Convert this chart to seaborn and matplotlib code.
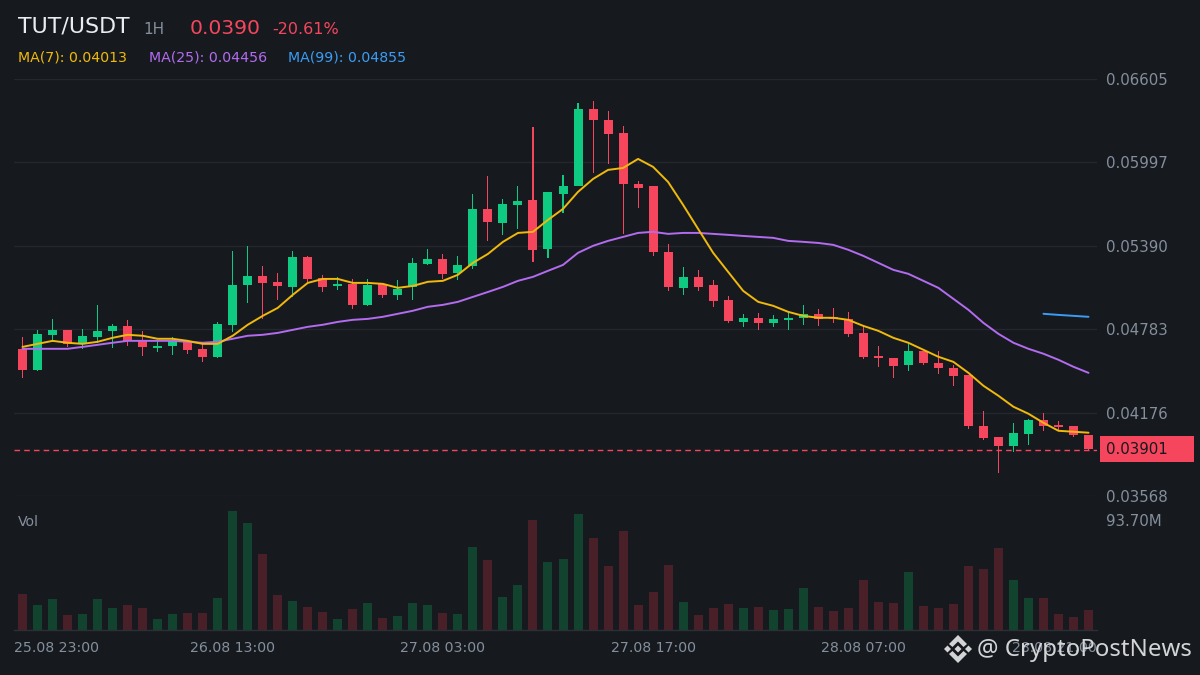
import numpy as np
import pandas as pd
import matplotlib
matplotlib.use("Agg")
import matplotlib.pyplot as plt
import seaborn as sns
from matplotlib.patches import Polygon, Rectangle
from matplotlib.transforms import ScaledTranslation

# candles, one per hour
opens = [0.04640, 0.04487, 0.04742, 0.04778, 0.04676, 0.04727, 0.04771, 0.04807, 0.04698, 0.04647, 0.04662, 0.04691,
         0.04640, 0.04582, 0.04815, 0.05106, 0.05171, 0.05128, 0.05091, 0.05310, 0.05157, 0.05098, 0.05113, 0.04960,
         0.05113, 0.05033, 0.05091, 0.05259, 0.05295, 0.05193, 0.05244, 0.05659, 0.05557, 0.05688, 0.05724, 0.05368,
         0.05768, 0.05826, 0.06387, 0.06307, 0.06212, 0.05841, 0.05826, 0.05346, 0.05084, 0.05164, 0.05106, 0.04997,
         0.04836, 0.04866, 0.04829, 0.04851, 0.04866, 0.04895, 0.04873, 0.04858, 0.04756, 0.04589, 0.04574, 0.04524,
         0.04625, 0.04538, 0.04502, 0.04451, 0.04080, 0.04000, 0.03934, 0.04021, 0.04123, 0.04087, 0.04080, 0.04014]
highs = [0.04727, 0.04778, 0.04858, 0.04778, 0.04786, 0.04960, 0.04822, 0.04851, 0.04771, 0.04698, 0.04727, 0.04705,
         0.04676, 0.04836, 0.05353, 0.05390, 0.05244, 0.05193, 0.05353, 0.05317, 0.05179, 0.05164, 0.05149, 0.05149,
         0.05120, 0.05142, 0.05302, 0.05368, 0.05331, 0.05317, 0.05768, 0.05899, 0.05732, 0.05826, 0.06256, 0.05783,
         0.05906, 0.06430, 0.06445, 0.06372, 0.06263, 0.05863, 0.05826, 0.05404, 0.05237, 0.05215, 0.05142, 0.05026,
         0.04895, 0.04902, 0.04887, 0.04902, 0.04960, 0.04931, 0.04938, 0.04909, 0.04807, 0.04662, 0.04574, 0.04684,
         0.04625, 0.04625, 0.04524, 0.04451, 0.04189, 0.04000, 0.04101, 0.04130, 0.04174, 0.04116, 0.04080, 0.04014]
lows = [0.04429, 0.04480, 0.04691, 0.04654, 0.04640, 0.04684, 0.04647, 0.04662, 0.04589, 0.04618, 0.04596, 0.04604,
        0.04545, 0.04574, 0.04764, 0.04975, 0.04858, 0.04997, 0.05018, 0.05128, 0.05054, 0.05069, 0.04931, 0.04953,
        0.05011, 0.04997, 0.04997, 0.05251, 0.05149, 0.05142, 0.05222, 0.05426, 0.05470, 0.05513, 0.05273, 0.05302,
        0.05630, 0.05826, 0.05921, 0.05986, 0.05477, 0.05666, 0.05317, 0.05062, 0.05033, 0.05062, 0.04946, 0.04829,
        0.04800, 0.04778, 0.04800, 0.04778, 0.04815, 0.04807, 0.04829, 0.04727, 0.04567, 0.04509, 0.04429, 0.04480,
        0.04524, 0.04458, 0.04371, 0.04058, 0.03978, 0.03738, 0.03890, 0.03941, 0.04043, 0.04050, 0.04000, 0.03898]
closes = [0.04487, 0.04749, 0.04778, 0.04676, 0.04735, 0.04771, 0.04807, 0.04698, 0.04654, 0.04662, 0.04698, 0.04633,
          0.04582, 0.04822, 0.05106, 0.05171, 0.05120, 0.05098, 0.05310, 0.05149, 0.05091, 0.05113, 0.04960, 0.05106,
          0.05033, 0.05077, 0.05266, 0.05295, 0.05186, 0.05251, 0.05659, 0.05564, 0.05695, 0.05717, 0.05361, 0.05783,
          0.05826, 0.06387, 0.06307, 0.06205, 0.05841, 0.05812, 0.05346, 0.05091, 0.05164, 0.05091, 0.04989, 0.04844,
          0.04866, 0.04829, 0.04858, 0.04866, 0.04895, 0.04858, 0.04858, 0.04749, 0.04582, 0.04574, 0.04516, 0.04625,
          0.04538, 0.04502, 0.04444, 0.04080, 0.03992, 0.03934, 0.04029, 0.04123, 0.04080, 0.04072, 0.04014, 0.03912]

ma7 = [0.04654, 0.04676, 0.04698, 0.04684, 0.04676, 0.04691, 0.04720, 0.04742, 0.04735, 0.04713, 0.04713, 0.04698,
       0.04676, 0.04676, 0.04735, 0.04815, 0.04880, 0.04938, 0.05033, 0.05120, 0.05149, 0.05149, 0.05120, 0.05120,
       0.05113, 0.05084, 0.05098, 0.05128, 0.05135, 0.05179, 0.05266, 0.05331, 0.05419, 0.05484, 0.05492, 0.05579,
       0.05659, 0.05783, 0.05877, 0.05943, 0.05957, 0.06023, 0.05965, 0.05855, 0.05688, 0.05513, 0.05339, 0.05200,
       0.05062, 0.04982, 0.04953, 0.04909, 0.04880, 0.04866, 0.04866, 0.04851, 0.04807, 0.04771, 0.04720, 0.04684,
       0.04633, 0.04582, 0.04545, 0.04465, 0.04371, 0.04298, 0.04218, 0.04167, 0.04101, 0.04043, 0.04036, 0.04029]
ma25 = [0.04640, 0.04640, 0.04640, 0.04640, 0.04654, 0.04669, 0.04684, 0.04698, 0.04698, 0.04698, 0.04698, 0.04691,
        0.04684, 0.04691, 0.04713, 0.04735, 0.04742, 0.04756, 0.04778, 0.04800, 0.04815, 0.04836, 0.04851, 0.04858,
        0.04873, 0.04895, 0.04917, 0.04946, 0.04960, 0.04982, 0.05018, 0.05054, 0.05091, 0.05135, 0.05164, 0.05208,
        0.05251, 0.05339, 0.05390, 0.05426, 0.05455, 0.05484, 0.05492, 0.05477, 0.05484, 0.05484, 0.05477, 0.05470,
        0.05462, 0.05455, 0.05448, 0.05426, 0.05419, 0.05411, 0.05397, 0.05361, 0.05317, 0.05266, 0.05215, 0.05186,
        0.05135, 0.05084, 0.05004, 0.04924, 0.04829, 0.04749, 0.04684, 0.04640, 0.04604, 0.04560, 0.04509, 0.04465]
ma99 = [0.04895, 0.04887, 0.04880, 0.04873]  # only the last four hours are drawn

# volume in millions
volumes = [30.1, 20.7, 25.8, 12.2, 13.0, 25.8, 18.1, 20.7, 18.1, 8.8, 13.0, 13.9,
           13.9, 26.7, 100.8, 90.6, 64.2, 29.2, 24.1, 19.0, 14.7, 8.8, 17.3, 22.4,
           9.6, 11.3, 22.4, 20.7, 13.9, 13.0, 70.1, 59.0, 27.5, 37.7, 93.1, 57.3,
           59.9, 98.2, 77.8, 53.9, 83.8, 20.7, 31.8, 54.8, 23.3, 12.2, 18.1, 21.6,
           18.1, 19.0, 16.4, 17.3, 35.2, 19.0, 15.6, 18.1, 42.0, 23.3, 22.4, 48.8,
           19.9, 18.1, 21.6, 53.9, 51.4, 69.3, 42.0, 26.7, 26.7, 13.0, 10.5, 16.4]

price_ticks = [0.06605, 0.05997, 0.05390, 0.04783, 0.04176, 0.03568]
last_price = 0.03901
vol_top = 93.70
time_ticks = [0, 14, 28, 42, 56, 70]
time_labels = ["25.08 23:00", "26.08 13:00", "27.08 03:00", "27.08 17:00", "28.08 07:00", "28.08 21:00"]

BG = "#161a1e"
UP = "#0ecb81"
DOWN = "#f6465d"
GREY = "#848e9c"
YELLOW = "#f0b90b"
PURPLE = "#b36bf0"
BLUE = "#3b9cf5"
GRID = "#24282e"

sns.set_theme(style="dark", rc={"axes.facecolor": BG, "figure.facecolor": BG, "axes.grid": False})
plt.rcParams["font.family"] = ["DejaVu Sans"]

df = pd.DataFrame({"hour": range(len(opens)), "open": opens, "high": highs, "low": lows, "close": closes,
                   "ma7": ma7, "ma25": ma25, "volume": volumes})
df["dir"] = np.where(df["close"] >= df["open"], "up", "down")
colors = df["dir"].map({"up": UP, "down": DOWN})

W, H = 1200, 675
fig = plt.figure(figsize=(12, 6.75), dpi=100)
x0, x1 = 14, 1097
ax = fig.add_axes([x0 / W, 1 - 496 / H, (x1 - x0) / W, (496 - 79) / H])
vax = fig.add_axes([x0 / W, 1 - 629.5 / H, (x1 - x0) / W, 118.5 / H])
xlim = (-0.566, 71.566)

# candles, thin bars for the wicks so they stay crisp
ax.bar(df["hour"], df["high"] - df["low"], bottom=df["low"], width=0.07, color=colors, lw=0, zorder=3)
ax.bar(df["hour"], (df["close"] - df["open"]).abs(), bottom=df[["open", "close"]].min(axis=1),
       width=0.6, color=colors, lw=0, zorder=3)

# moving averages
sns.lineplot(data=df, x="hour", y="ma25", color=PURPLE, lw=1.4, ax=ax, zorder=4)
sns.lineplot(data=df, x="hour", y="ma7", color=YELLOW, lw=1.4, ax=ax, zorder=5)
sns.lineplot(x=df["hour"].iloc[-4:].values, y=ma99, color=BLUE, lw=1.4, ax=ax, zorder=4)

ax.axhline(last_price, color=DOWN, lw=1, dashes=(4, 3), zorder=2)

ax.set_xlim(xlim)
ax.set_ylim(price_ticks[-1], price_ticks[0])
ax.set_xticks([])
ax.set_yticks(price_ticks)
ax.set_yticklabels([f"{t:.5f}" for t in price_ticks])
ax.yaxis.tick_right()
ax.tick_params(axis="y", length=0, pad=6.3, labelsize=10.8, labelcolor=GREY)
ax.grid(axis="y", color=GRID, lw=1, zorder=0)
ax.set_xlabel("")
ax.set_ylabel("")
sns.despine(ax=ax, left=True, bottom=True, right=True, top=True)
ax.patch.set_alpha(0)

# volume pane
sns.barplot(data=df, x="hour", y="volume", hue="dir", palette={"up": "#12432f", "down": "#4a2028"},
            native_scale=True, dodge=False, width=0.6, saturation=1, errorbar=None, legend=False,
            linewidth=0, ax=vax)
vax.set_xlim(xlim)
vax.set_ylim(0, 101)
vax.set_yticks([vol_top])
vax.set_yticklabels(["93.70M"])
vax.yaxis.tick_right()
vax.tick_params(axis="y", length=0, pad=6.3, labelsize=10.8, labelcolor=GREY)
vax.set_xticks(time_ticks)
vax.set_xticklabels(time_labels)
vax.tick_params(axis="x", length=0, pad=8, labelsize=10.2, labelcolor=GREY)
vax.set_xlabel("")
vax.set_ylabel("")
sns.despine(ax=vax, left=True, right=True, top=True)
vax.spines["bottom"].set_color("#2b2f36")
vax.spines["bottom"].set_linewidth(1)
vax.patch.set_alpha(0)

# first and last time labels are pushed inside the pane
tick_text = vax.get_xticklabels()
tick_text[0].set_ha("left")
tick_text[0].set_transform(tick_text[0].get_transform() + ScaledTranslation(-8.5 / 100, 0, fig.dpi_scale_trans))
tick_text[-1].set_ha("right")
tick_text[-1].set_transform(tick_text[-1].get_transform() + ScaledTranslation(23 / 100, 0, fig.dpi_scale_trans))

# overlay in pixel units for header, price tag and watermark
top = fig.add_axes([0, 0, 1, 1], zorder=10)
top.set_xlim(0, W)
top.set_ylim(H, 0)
top.axis("off")

top.text(18, 27, "TUT/USDT", color="#eaecef", fontsize=15.9, va="center")
top.text(143, 29.5, "1H", color=GREY, fontsize=11, va="center")
top.text(190, 28, "0.0390", color=DOWN, fontsize=14.6, va="center")
top.text(272, 29, "-20.61%", color=DOWN, fontsize=11.5, va="center")
top.text(18, 57.5, "MA(7): 0.04013", color=YELLOW, fontsize=10.15, va="center")
top.text(149, 57.5, "MA(25): 0.04456", color=PURPLE, fontsize=10.15, va="center")
top.text(288, 57.5, "MA(99): 0.04855", color=BLUE, fontsize=10.15, va="center")
top.text(18, 522.5, "Vol", color=GREY, fontsize=10.1, va="center")

top.add_patch(Rectangle((1100, 436), 94, 26, color=DOWN, lw=0))
top.text(1106, 450, "0.03901", color="#161a1e", fontsize=10.8, va="center")

logo = "#d2d4d6"
cx, cy = 958, 649
for pts in ([(-3.5, 0), (0, -3.5), (3.5, 0), (0, 3.5)],
            [(-14, 0), (-10.5, -3.5), (-7, 0), (-10.5, 3.5)],
            [(14, 0), (10.5, -3.5), (7, 0), (10.5, 3.5)],
            [(0, -14), (9, -5), (5.5, -2), (0, -7.5), (-5.5, -2), (-9, -5)],
            [(0, 14), (9, 5), (5.5, 2), (0, 7.5), (-5.5, 2), (-9, 5)]):
    top.add_patch(Polygon([(cx + a, cy + b) for a, b in pts], closed=True, color=logo, lw=0))
top.text(977, 649.5, "@ CryptoPostNews", color="#d2d4d6", fontsize=17.3, family="Noto Sans", va="center")

fig.savefig("out.png", dpi=100, facecolor=BG)
